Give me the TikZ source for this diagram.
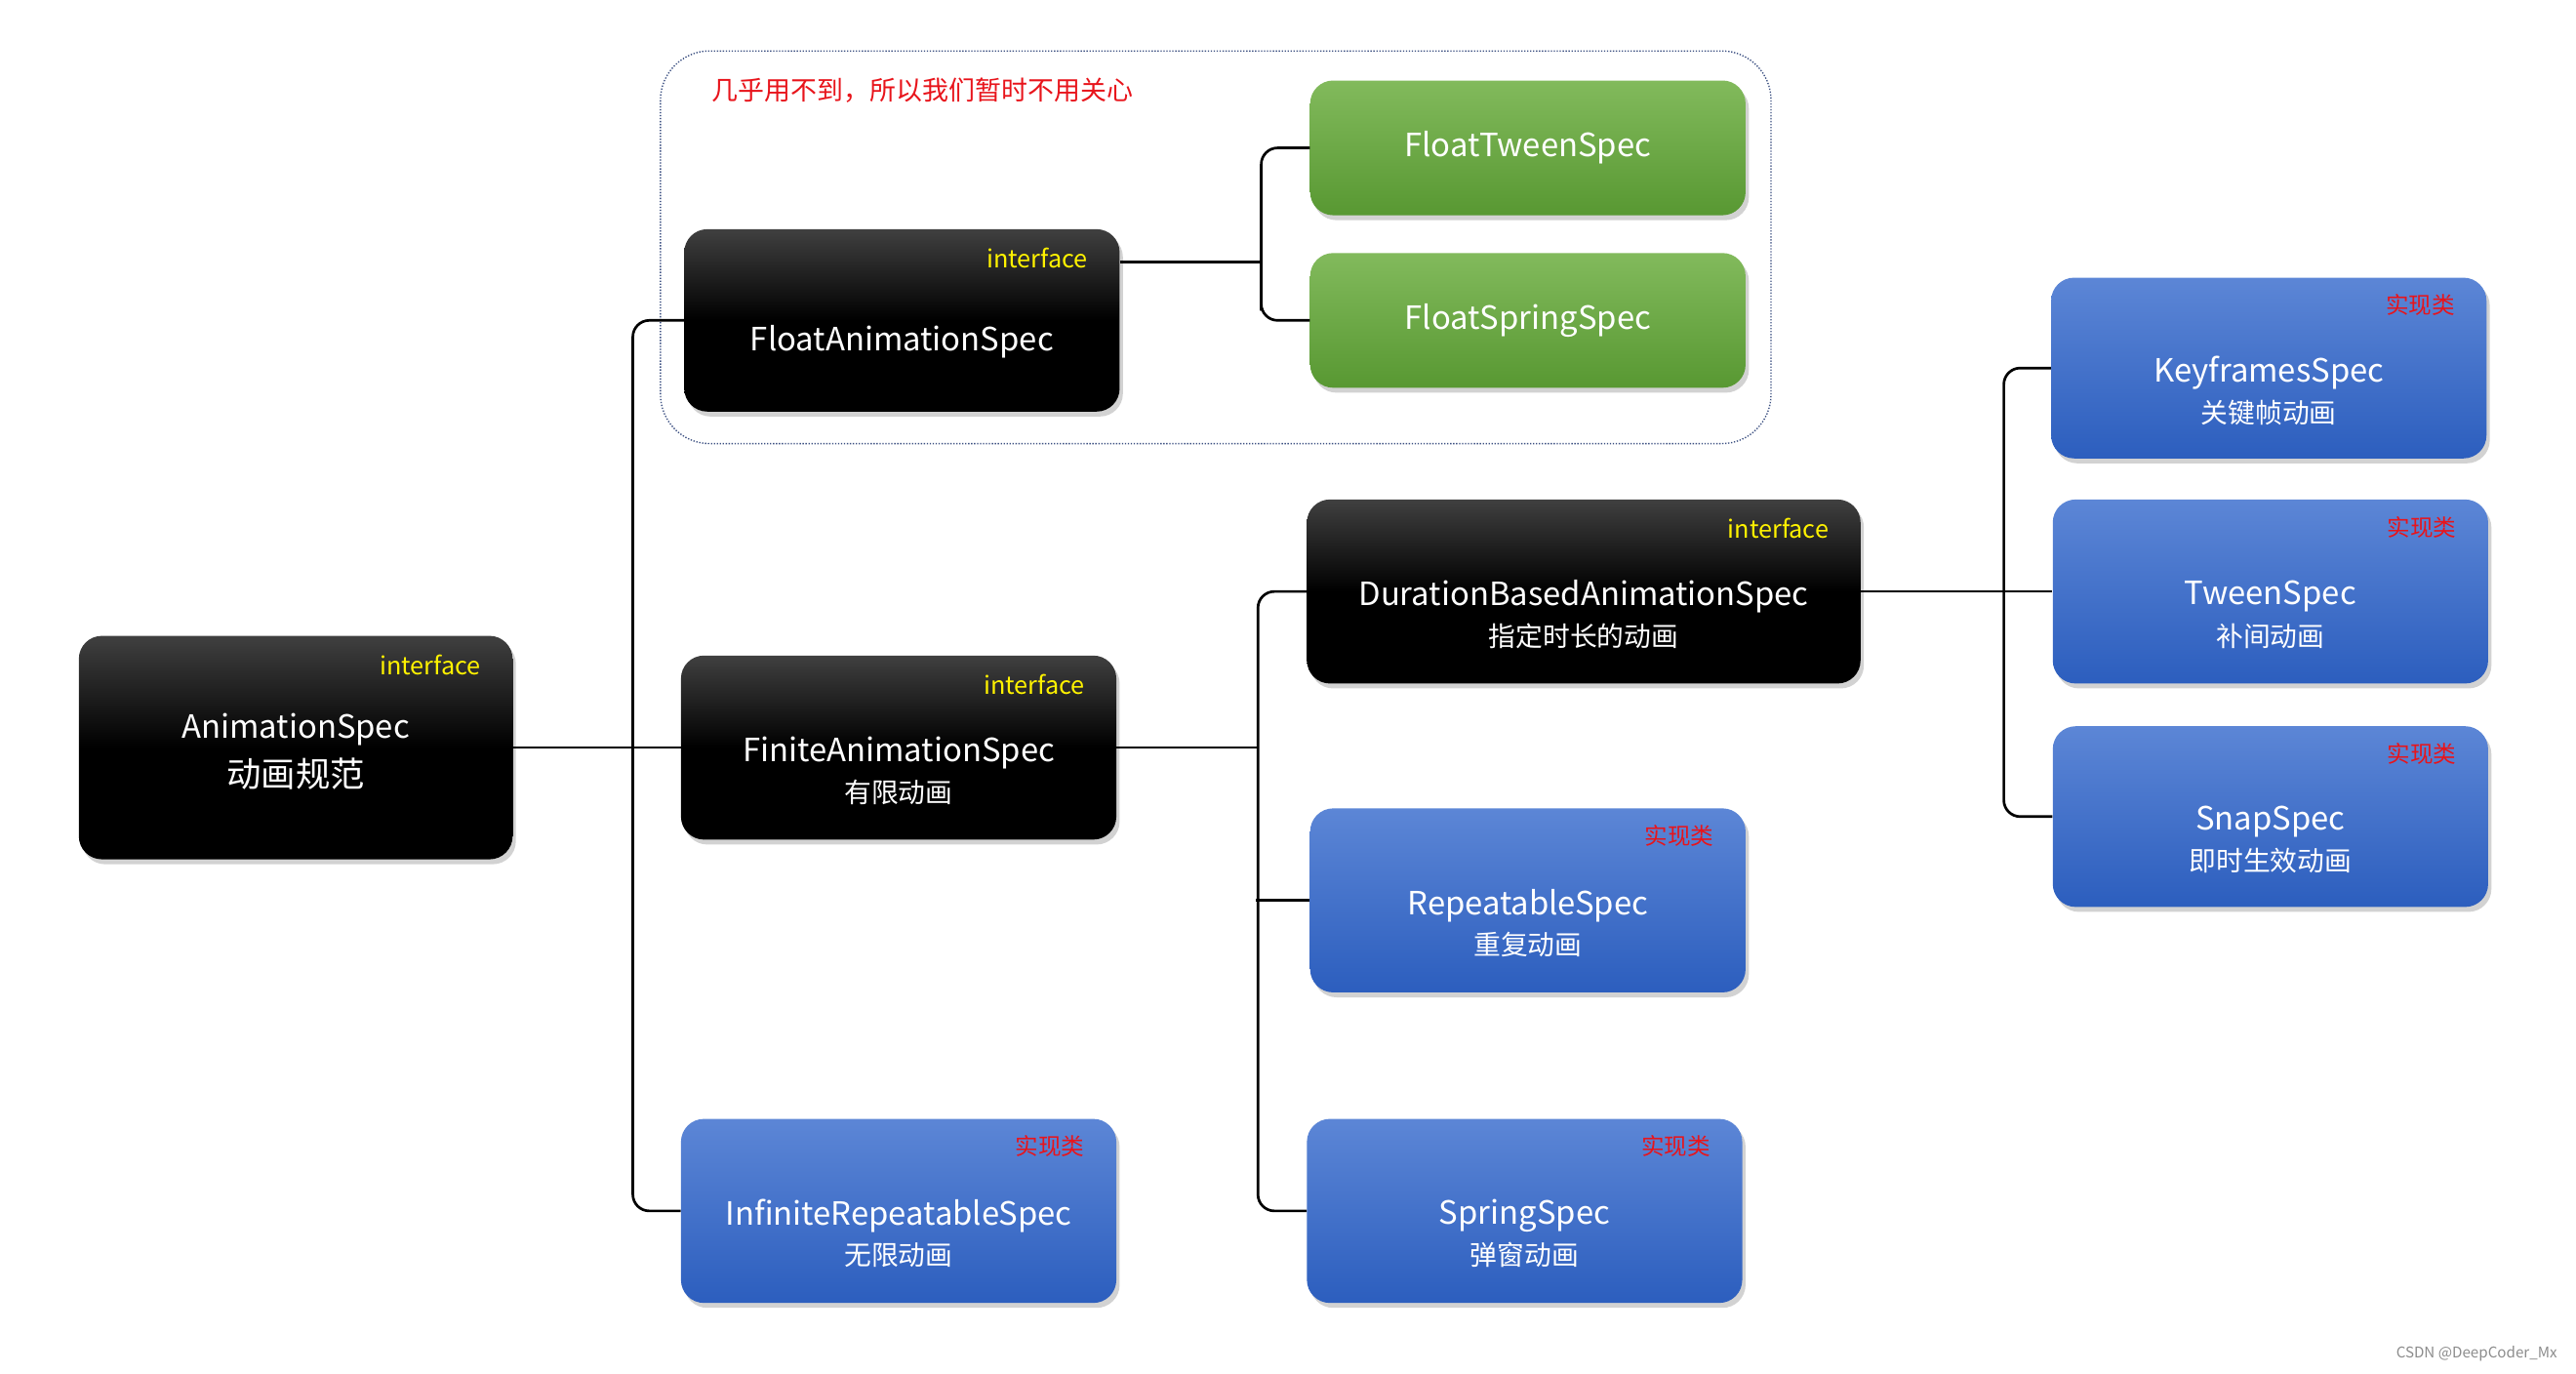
\documentclass[tikz,border=0pt]{standalone}
\usepackage{fontspec}
\setmainfont{Noto Sans CJK SC}
\usetikzlibrary{shadows,calc}
\definecolor{tagred}{HTML}{E8141B}
\tikzset{
 x=1pt,y=-1pt,
 box/.style={rounded corners=14pt,minimum width=265pt,minimum height=112pt,drop shadow={shadow xshift=2pt,shadow yshift=-3pt,opacity=0.35}},
 blk/.style={box,top color=black!75,bottom color=black,middle color=black},
 blu/.style={box,top color={rgb,255:red,92;green,134;blue,214},bottom color={rgb,255:red,44;green,94;blue,190}},
 grn/.style={box,minimum height=82pt,top color={rgb,255:red,130;green,186;blue,92},bottom color={rgb,255:red,88;green,152;blue,50}},
 mtxt/.style={text=white,font=\fontsize{19.5}{22}\selectfont},
 stxt/.style={text=white,font=\fontsize{16.5}{20}\selectfont},
 conn/.style={draw,line width=1.6pt,rounded corners=10pt},
 itag/.style={anchor=east,text=yellow,font=\fontsize{15}{17}\selectfont},
 rtag/.style={anchor=east,text=tagred,font=\fontsize{14}{16}\selectfont},
}
\newcommand{\tagI}[1]{\node[itag] at ($(#1.north east)+(-16,18)$) {interface};}
\newcommand{\tagR}[1]{\node[rtag] at ($(#1.north east)+(-16,17)$) {实现类};}
\newcommand{\lbl}[3]{\node[mtxt] at ($(#1.center)+(0,3)$) {#2};\node[stxt] at ($(#1.center)+(0,27)$) {#3};}
\begin{document}
\begin{tikzpicture}
\useasboundingbox[fill=white] (0,0) rectangle (1568,836);
\draw[densely dotted,color={rgb,255:red,60;green,80;blue,130},rounded corners=30pt,line width=0.8pt] (402,31) rectangle (1078,270);
\node[anchor=west,text=tagred,font=\fontsize{16}{18}\selectfont] (note) at (430,55) {几乎用不到，所以我们暂时不用关心};

\node[blk,minimum width=264pt,minimum height=136pt] (anim) at (180,455) {};
\node[blk,minimum height=111pt] (float) at (549,195) {};
\node[blk] (finite) at (547,455) {};
\node[blu] (inf) at (547,737) {};
\node[grn] (ftween) at (930,90) {};
\node[grn] (fspring) at (930,195) {};
\node[blk,minimum width=337pt] (dur) at (964,360) {};
\node[blu] (rep) at (930,548) {};
\node[blu] (spring) at (928,737) {};
\node[blu,minimum height=110pt] (key) at (1381,224) {};
\node[blu] (tween) at (1382,360) {};
\node[blu,minimum height=110pt] (snap) at (1382,497) {};

\node[mtxt] at ($(anim.center)+(0,-11)$) {AnimationSpec};
\node[mtxt,font=\fontsize{21}{24}\selectfont] at ($(anim.center)+(0,16)$) {动画规范};
\node[mtxt] at ($(float.center)+(0,13)$) {FloatAnimationSpec};
\node[mtxt] at (ftween.center) {FloatTweenSpec};
\node[mtxt] at (fspring.center) {FloatSpringSpec};
\lbl{finite}{FiniteAnimationSpec}{有限动画}
\lbl{inf}{InfiniteRepeatableSpec}{无限动画}
\lbl{dur}{DurationBasedAnimationSpec}{指定时长的动画}
\lbl{rep}{RepeatableSpec}{重复动画}
\lbl{spring}{SpringSpec}{弹窗动画}
\lbl{key}{KeyframesSpec}{关键帧动画}
\lbl{tween}{TweenSpec}{补间动画}
\lbl{snap}{SnapSpec}{即时生效动画}

\tagI{anim}\tagI{float}\tagI{finite}\tagI{dur}
\tagR{inf}\tagR{rep}\tagR{spring}\tagR{key}\tagR{tween}\tagR{snap}

\draw[conn] (float.west) -| ($(anim.east)+(73,0)$) |- (inf.west);
\draw[conn] (anim.east) -- (finite.west);
\draw[conn] (ftween.west) -| ($(float.east)+(86,0)$) |- (fspring.west);
\draw[conn] ($(float.north east)+(0,20)$) -- ++(86,0);
\draw[conn] (dur.west) -| ($(finite.east)+(86,0)$) |- (spring.west);
\draw[conn] (finite.east) -- ++(86,0);
\draw[conn] (rep.west) -- ++(-33,0);
\draw[conn] (key.west) -| ($(dur.east)+(87,0)$) |- (snap.west);
\draw[conn] (dur.east) -- (tween.west);

\node[anchor=east,text=black!45,font=\fontsize{9}{10}\selectfont] (wm) at (1560,824) {CSDN @DeepCoder\_Mx};
\end{tikzpicture}
\end{document}
